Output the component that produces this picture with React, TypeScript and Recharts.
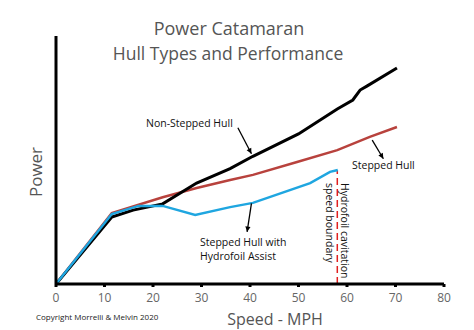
import { LineChart, Line, XAxis, YAxis, ReferenceLine } from "recharts";

// Speed (MPH) / relative power
const nonSteppedSpeed = [0, 11.5, 15.9, 22, 29, 35.9, 40.6, 50, 58, 61.2, 62.7, 64.1, 70.3];
const nonSteppedPower = [0, 27, 29.8, 32.3, 40.7, 46.5, 51.5, 60.5, 70.6, 74.2, 78.2, 79.8, 87.1];

const steppedSpeed = [0, 11.5, 22, 29, 35.9, 40.6, 49.7, 58, 64.7, 70.3];
const steppedPower = [0, 28.6, 35, 38.7, 41.9, 44, 49.2, 54, 59.3, 63.3];

const foilSpeed = [0, 11.5, 17, 22, 28.7, 35.9, 40.6, 52.4, 56.5, 58.1];
const foilPower = [0, 28.2, 31.5, 31.5, 27.8, 31, 32.7, 40.7, 45.2, 46];

const xTicks = [0, 10, 20, 30, 40, 50, 60, 70, 80];
const boundarySpeed = 58;
const boundaryPower = 46;

const toPoints = (xs: number[], ys: number[]) => xs.map((x, i) => ({ x, y: ys[i] }));

const nonStepped = toPoints(nonSteppedSpeed, nonSteppedPower);
const stepped = toPoints(steppedSpeed, steppedPower);
const foil = toPoints(foilSpeed, foilPower);

const FONT = "'Open Sans', 'Noto Sans', sans-serif";

// arrow drawn as line + small head at the end point
function Arrow(props: any) {
  const { x1, y1, x2, y2 } = props;
  const ang = Math.atan2(y2 - y1, x2 - x1);
  const h = 6;
  const p1 = [x2 - h * Math.cos(ang - 0.45), y2 - h * Math.sin(ang - 0.45)];
  const p2 = [x2 - h * Math.cos(ang + 0.45), y2 - h * Math.sin(ang + 0.45)];
  return (
    <g>
      <line x1={x1} y1={y1} x2={x2} y2={y2} stroke="#000" strokeWidth={1.3} />
      <polygon points={`${x2},${y2} ${p1[0]},${p1[1]} ${p2[0]},${p2[1]}`} fill="#000" />
    </g>
  );
}

export default function App() {
  return (
    <div style={{ position: "absolute", left: 0, top: 0, width: 474, height: 330, background: "#fff" }}>
      <LineChart width={474} height={330} margin={{ top: 36, right: 30, bottom: 0, left: 0 }}>
        <XAxis
          type="number"
          dataKey="x"
          domain={[0, 80]}
          ticks={xTicks}
          height={46}
          stroke="#000"
          strokeWidth={3}
          tickSize={3}
          tickMargin={6}
          tick={{ fill: "#666", fontSize: 12, fontFamily: FONT }}
          allowDataOverflow
        />
        <YAxis type="number" domain={[0, 100]} width={56} stroke="#000" strokeWidth={3} tick={false} tickLine={false} />
        <ReferenceLine
          segment={[
            { x: boundarySpeed, y: 0 },
            { x: boundarySpeed, y: boundaryPower },
          ]}
          stroke="#e02020"
          strokeWidth={1.5}
          strokeDasharray="7 4"
        />
        <Line data={stepped} dataKey="y" type="linear" stroke="#b8423d" strokeWidth={2.5} dot={false} isAnimationActive={false} />
        <Line data={nonStepped} dataKey="y" type="linear" stroke="#000" strokeWidth={3} dot={false} isAnimationActive={false} />
        <Line data={foil} dataKey="y" type="linear" stroke="#1fa6e0" strokeWidth={2.5} dot={false} isAnimationActive={false} />
        <ReferenceLine segment={[{ x: 37.5, y: 63 }, { x: 40.3, y: 52.5 }]} shape={Arrow} />
        <ReferenceLine segment={[{ x: 65.2, y: 58 }, { x: 67.5, y: 50.5 }]} shape={Arrow} />
        <ReferenceLine segment={[{ x: 40.3, y: 32.5 }, { x: 39.4, y: 21 }]} shape={Arrow} />
      </LineChart>
      <svg width={474} height={330} style={{ position: "absolute", left: 0, top: 0, pointerEvents: "none" }} fontFamily={FONT}>
        <text x={229} y={35} textAnchor="middle" fontSize={18} fill="#555">Power Catamaran</text>
        <text x={228} y={60} textAnchor="middle" fontSize={17.5} fill="#555">Hull Types and Performance</text>
        <text x={42} y={172} textAnchor="middle" fontSize={17} fill="#555" transform="rotate(-90 42 172)">Power</text>
        <text x={275} y={325} textAnchor="middle" fontSize={16} fill="#555">Speed - MPH</text>
        <text x={36} y={320} fontSize={8} fill="#222">Copyright Morrelli &amp; Melvin 2020</text>
        <text x={146} y={127} fontSize={10.5} fill="#111">Non-Stepped Hull</text>
        <text x={352} y={169} fontSize={10.5} fill="#111">Stepped Hull</text>
        <text x={200} y={246} fontSize={10.5} fill="#111">Stepped Hull with</text>
        <text x={200} y={260} fontSize={10.5} fill="#111">Hydrofoil Assist</text>
        <text x={340.5} y={183} fontSize={10.5} fill="#111" transform="rotate(90 340.5 183)">Hydrofoil cavitation</text>
        <text x={326} y={183} fontSize={10.5} fill="#111" transform="rotate(90 326 183)">speed boundary</text>
      </svg>
    </div>
  );
}
